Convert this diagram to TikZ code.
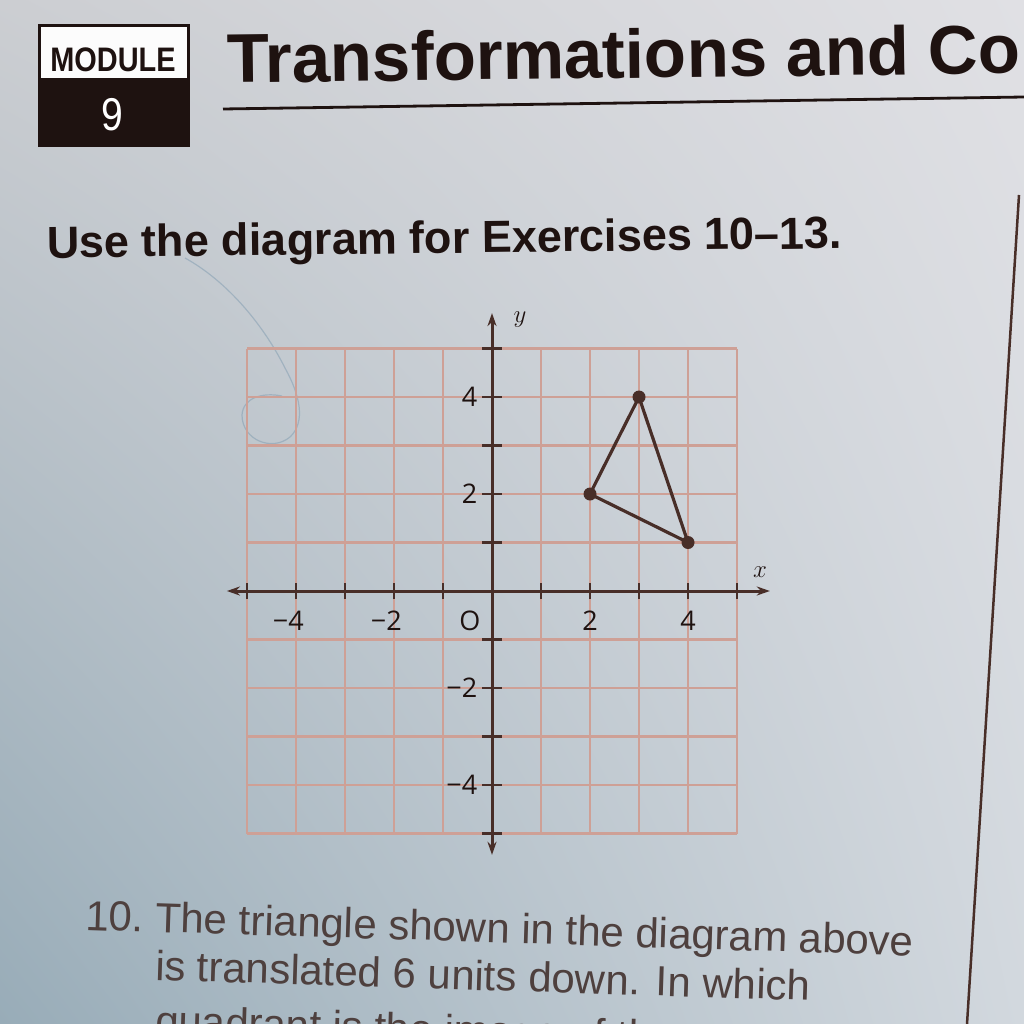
\documentclass[tikz,border=0pt]{standalone}
\usepackage{fontspec}
\setmainfont{Liberation Sans}
\newfontfamily\labelfont{Open Sans}
\usetikzlibrary{arrows.meta,shadings}
\definecolor{pageUL}{RGB}{204,206,210}
\definecolor{pageUR}{RGB}{224,224,228}
\definecolor{pageLL}{RGB}{152,172,184}
\definecolor{pageLR}{RGB}{210,216,222}
\definecolor{ink}{RGB}{30,18,16}
\definecolor{softink}{RGB}{78,64,62}
\definecolor{gridpink}{RGB}{206,160,150}
\definecolor{axisbrown}{RGB}{72,46,40}
\definecolor{pencil}{RGB}{120,150,172}
\begin{document}
\begin{tikzpicture}[
        x=1pt, y=-1pt,
        every node/.style={inner sep=0pt, outer sep=0pt},
        heading/.style={anchor=base west, rotate=0.7, text=ink},
        question/.style={anchor=base west, rotate=-1.8, text=softink, font=\fontsize{42}{50}\selectfont},
        gridline/.style={draw=gridpink, line width=2.4pt},
        axis/.style={draw=axisbrown, line width=3pt, arrows={Stealth[length=13pt,width=9pt]-Stealth[length=13pt,width=9pt]}},
        tickmark/.style={draw=axisbrown, line width=2.2pt},
        ticklabel/.style={text=ink, font=\labelfont\fontsize{27}{30}\selectfont},
        side/.style={draw=axisbrown, line width=3.2pt, line join=round},
    ]
    \useasboundingbox (0,0) rectangle (1024,1024);
    \clip (0,0) rectangle (1024,1024);
    \shade[upper left=pageUL, upper right=pageUR, lower left=pageLL, lower right=pageLR] (0,0) rectangle (1024,1024);

    \draw[ink, line width=3pt, fill=white!90!pageUR] (39,26) rectangle (188,80);
    \fill[ink] (38,80) rectangle (190,147);
    \node[text=ink, font=\bfseries\fontsize{34}{38}\selectfont] (modlabel) at (113,60) {\scalebox{0.85}[1]{MODULE}};
    \node[text=white, font=\fontsize{46}{50}\selectfont] (modnum) at (112,115) {\scalebox{0.85}[1]{9}};

    \node[heading, font=\bfseries\fontsize{69}{80}\selectfont] (title) at (227,83) {Transformations and Co};
    \draw[ink, line width=2.8pt] (223,109) -- (1024,97);
    \node[heading, font=\bfseries\fontsize{45}{54}\selectfont] (intro) at (47,258) {Use the diagram for Exercises 10–13.};

    \draw[pencil, opacity=0.45, line width=1.2pt] (185,258) .. controls (225,280) and (262,322) .. (285,368)
        .. controls (300,395) and (306,422) .. (290,437) .. controls (272,452) and (242,440) .. (242,415)
        .. controls (243,398) and (262,392) .. (282,396);

    \begin{scope}[shift={(492,591)}, x=49pt, y=48.5pt]
        \draw[gridline, step={(1,1)}] (-5,-5) grid (5,5);
        \foreach \k in {-5,-4,-3,-2,-1,1,2,3,4,5} {
            \draw[tickmark] (\k,-0.17) -- (\k,0.17);
            \draw[tickmark] (-0.2,\k) -- (0.2,\k);
        }
        \coordinate (xmin) at (-5.41,0);
        \coordinate (xmax) at (5.67,0);
        \coordinate (ymin) at (0,-5.44);
        \coordinate (ymax) at (0,5.73);
        \draw[axis] (xmin) -- (xmax);
        \draw[axis] (ymin) -- (ymax);

        \node[ticklabel, anchor=east] (y4) at (-0.3,4) {4};
        \node[ticklabel, anchor=east] (y2) at (-0.3,2) {2};
        \node[ticklabel, anchor=east] (ym2) at (-0.3,-2) {−2};
        \node[ticklabel, anchor=east] (ym4) at (-0.3,-4) {−4};
        \node[ticklabel] (xm4) at (-4,-0.62) {\llap{−}4};
        \node[ticklabel] (xm2) at (-2,-0.62) {\llap{−}2};
        \node[ticklabel] (origin) at (-0.45,-0.62) {O};
        \node[ticklabel] (x2) at (2,-0.62) {2};
        \node[ticklabel] (x4) at (4,-0.62) {4};
        \node[text=ink, font=\fontsize{34}{36}\selectfont] (xname) at (5.47,0.39) {$x$};
        \node[text=ink, font=\fontsize{34}{36}\selectfont] (yname) at (0.57,5.59) {$y$};

        \coordinate (vtop) at (3,4);
        \coordinate (vleft) at (2,2);
        \coordinate (vright) at (4,1);
        \draw[side] (vtop) -- (vleft) -- (vright) -- cycle;
        \foreach \p in {vtop,vleft,vright}
            \fill[axisbrown] (\p) circle (6.5pt);
    \end{scope}

    \draw[axisbrown, line width=2.5pt] (1019,195) -- (967,1024);

    \node[question] (qnum) at (85,930) {10.};
    \node[question] (qline1) at (155,932) {The triangle shown in the diagram above};
    \node[question] (qline2) at (155,980) {is translated 6 units down. In which};
    \node[question] (qline3) at (155,1035) {quadrant is the image of the};
\end{tikzpicture}
\end{document}
